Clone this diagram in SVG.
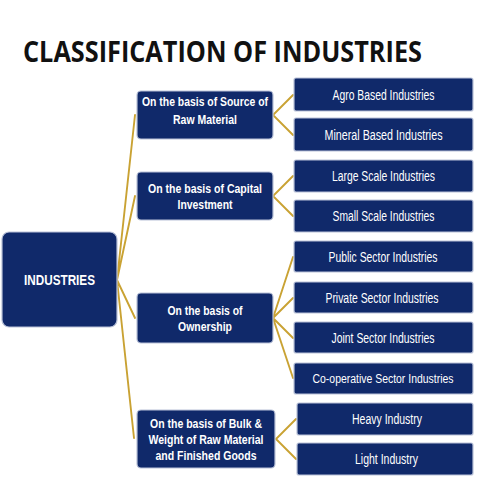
<svg xmlns="http://www.w3.org/2000/svg" width="480" height="480" viewBox="0 0 480 480">
<style>
.box{fill:#10296a;stroke:#b9c2d8;stroke-width:1.2}
.conn{stroke:#c9a233;stroke-width:1.9;fill:none;stroke-linecap:round}
.t{font-family:"Liberation Sans",Arial,sans-serif;fill:#ffffff;text-anchor:middle}
.cat{font-size:13.5px;font-weight:bold}
.leaf{font-size:14px}
.leaf.small{font-size:12px}
.title{font-family:"Open Sans","Liberation Sans",Arial,sans-serif;font-weight:bold;font-size:28px;fill:#111111}
</style>
<rect width="480" height="480" fill="#ffffff"/>
<text class="title" x="23" y="62" textLength="399" lengthAdjust="spacingAndGlyphs">CLASSIFICATION OF INDUSTRIES</text>

<g id="connectors">
<path class="conn" d="M117,280 L135,115 M117,280 L135,196 M117,280 L135,318 M117,280 L134,438"/>
<path class="conn" d="M293,95 L273,115 L293,135"/>
<path class="conn" d="M293,176 L273,196 L293,216"/>
<path class="conn" d="M293,257 L273,318 M273,318 L293,298 M273,318 L293,338 M273,318 L293,378"/>
<path class="conn" d="M296,419 L276,439 L296,459"/>
</g>

<g id="root">
<rect class="box" x="2" y="232" width="115" height="95" rx="7"/>
<text class="t" x="59.5" y="285" font-size="15" font-weight="bold" textLength="71" lengthAdjust="spacingAndGlyphs">INDUSTRIES</text>
</g>

<g id="cat-raw">
<rect class="box" x="137" y="91" width="136" height="48" rx="4"/>
<text class="t cat" x="205" y="106" textLength="126" lengthAdjust="spacingAndGlyphs">On the basis of Source of</text>
<text class="t cat" x="205" y="124" textLength="64" lengthAdjust="spacingAndGlyphs">Raw Material</text>
</g>
<g id="cat-capital">
<rect class="box" x="137" y="172" width="136" height="48" rx="4"/>
<text class="t cat" x="205" y="193" textLength="114" lengthAdjust="spacingAndGlyphs">On the basis of Capital</text>
<text class="t cat" x="205" y="209" textLength="55" lengthAdjust="spacingAndGlyphs">Investment</text>
</g>
<g id="cat-ownership">
<rect class="box" x="137" y="293" width="136" height="50" rx="4"/>
<text class="t cat" x="205" y="315" textLength="75" lengthAdjust="spacingAndGlyphs">On the basis of</text>
<text class="t cat" x="205" y="331" textLength="54" lengthAdjust="spacingAndGlyphs">Ownership</text>
</g>
<g id="cat-bulk">
<rect class="box" x="137" y="410" width="138" height="58" rx="4"/>
<text class="t cat" x="206" y="428" textLength="112" lengthAdjust="spacingAndGlyphs">On the basis of Bulk &amp;</text>
<text class="t cat" x="206" y="444" textLength="115" lengthAdjust="spacingAndGlyphs">Weight of Raw Material</text>
<text class="t cat" x="206" y="460" textLength="101" lengthAdjust="spacingAndGlyphs">and Finished Goods</text>
</g>

<g id="leaf-agro">
<rect class="box" x="294" y="78" width="179" height="33" rx="2"/>
<text class="t leaf" x="383.5" y="99.5" textLength="102" lengthAdjust="spacingAndGlyphs">Agro Based Industries</text>
</g>
<g id="leaf-mineral">
<rect class="box" x="294" y="118" width="179" height="33" rx="2"/>
<text class="t leaf" x="383.5" y="139.5" textLength="118" lengthAdjust="spacingAndGlyphs">Mineral Based Industries</text>
</g>
<g id="leaf-large">
<rect class="box" x="294" y="160" width="179" height="32" rx="2"/>
<text class="t leaf" x="383.5" y="181" textLength="103" lengthAdjust="spacingAndGlyphs">Large Scale Industries</text>
</g>
<g id="leaf-small">
<rect class="box" x="294" y="200" width="179" height="32" rx="2"/>
<text class="t leaf" x="383.5" y="221" textLength="102" lengthAdjust="spacingAndGlyphs">Small Scale Industries</text>
</g>
<g id="leaf-public">
<rect class="box" x="294" y="241" width="179" height="31" rx="2"/>
<text class="t leaf" x="383" y="261.5" textLength="109" lengthAdjust="spacingAndGlyphs">Public Sector Industries</text>
</g>
<g id="leaf-private">
<rect class="box" x="294" y="282" width="179" height="31" rx="2"/>
<text class="t leaf" x="382" y="302.5" textLength="113" lengthAdjust="spacingAndGlyphs">Private Sector Industries</text>
</g>
<g id="leaf-joint">
<rect class="box" x="294" y="322" width="179" height="31" rx="2"/>
<text class="t leaf" x="383" y="342.5" textLength="103" lengthAdjust="spacingAndGlyphs">Joint Sector Industries</text>
</g>
<g id="leaf-coop">
<rect class="box" x="294" y="363" width="179" height="31" rx="2"/>
<text class="t leaf small" x="383" y="383" textLength="141" lengthAdjust="spacingAndGlyphs">Co-operative Sector Industries</text>
</g>
<g id="leaf-heavy">
<rect class="box" x="297" y="403" width="176" height="32" rx="2"/>
<text class="t leaf" x="387" y="424" textLength="70" lengthAdjust="spacingAndGlyphs">Heavy Industry</text>
</g>
<g id="leaf-light">
<rect class="box" x="297" y="443" width="176" height="32" rx="2"/>
<text class="t leaf" x="386.5" y="464" textLength="63" lengthAdjust="spacingAndGlyphs">Light Industry</text>
</g>
</svg>
